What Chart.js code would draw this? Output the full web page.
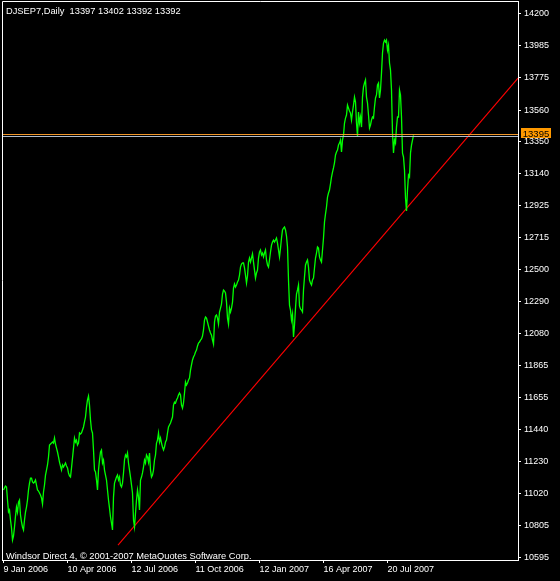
<!DOCTYPE html>
<html><head><meta charset="utf-8">
<script src="https://cdn.jsdelivr.net/npm/chart.js@4.4.1/dist/chart.umd.min.js"></script>
<style>html,body{margin:0;padding:0;background:#000;}canvas{display:block;}</style>
</head><body>
<canvas id="c" width="560" height="581"></canvas>
<script>
const symbolTitle = 'DJSEP7,Daily  13397 13402 13392 13392';
const footerText = 'Windsor Direct 4, \u00A9 2001-2007 MetaQuotes Software Corp.';

// daily closes, one per bar, from 9 Jan 2006
const closes = [
11041,11054,11067,11061,10975,10895,10908,10842,10789,10709,
10736,10796,10868,10928,10895,10961,10975,10875,10829,10796,
10776,10842,10895,10928,10975,11041,11087,11120,11120,11094,
11087,11094,11107,11074,11041,11034,11021,11008,10988,10948,
11028,11074,11140,11173,11207,11260,11339,11346,11352,11359,
11352,11386,11346,11319,11293,11260,11226,11200,11173,11207,
11193,11207,11220,11200,11187,11154,11134,11127,11187,11253,
11319,11386,11359,11372,11339,11352,11419,11412,11419,11439,
11459,11492,11525,11591,11638,11664,11604,11505,11439,11419,
11306,11173,11160,11107,11041,11173,11240,11293,11306,11220,
11240,11173,11140,11107,11041,10975,10921,10862,10822,10776,
10994,11087,11107,11127,11140,11107,11127,11074,11061,11087,
11154,11240,11273,11260,11286,11220,11173,11127,11074,11021,
10842,10796,10888,10975,11041,10994,10908,11107,11127,11154,
11193,11240,11220,11273,11260,11226,11286,11173,11127,11140,
11173,11240,11273,11352,11372,11419,11359,11386,11352,11326,
11306,11326,11359,11372,11419,11459,11472,11485,11505,11525,
11604,11624,11618,11638,11651,11671,11684,11671,11604,11584,
11618,11684,11757,11737,11750,11770,11783,11836,11870,11903,
11923,11936,11956,11969,11996,12015,12022,12035,12042,12062,
12102,12168,12188,12181,12155,12128,12102,12082,12068,12035,
12009,12155,12194,12201,12181,12141,12221,12247,12274,12340,
12367,12360,12347,12287,12181,12141,12247,12221,12247,12287,
12380,12407,12387,12400,12420,12433,12466,12519,12539,12546,
12546,12513,12466,12413,12460,12552,12579,12552,12579,12606,
12552,12499,12446,12480,12499,12579,12619,12632,12599,12612,
12586,12612,12632,12566,12533,12519,12566,12619,12665,12685,
12698,12685,12698,12712,12678,12632,12586,12645,12712,12765,
12778,12785,12765,12725,12652,12433,12267,12234,12168,12208,
12055,12135,12247,12340,12367,12400,12261,12241,12234,12221,
12367,12453,12533,12552,12566,12519,12433,12413,12400,12433,
12446,12513,12579,12612,12652,12645,12586,12566,12552,12632,
12712,12818,12871,12917,12983,13010,13030,13070,13116,13149,
13176,13209,13262,13282,13295,13328,13341,13361,13282,13361,
13394,13474,13507,13527,13593,13573,13554,13540,13494,13547,
13593,13646,13613,13474,13388,13547,13474,13514,13447,13646,
13713,13739,13759,13646,13607,13527,13441,13461,13494,13514,
13507,13580,13640,13660,13726,13739,13640,13693,13806,13938,
14004,14024,14011,14024,13958,13991,13872,13825,13693,13408,
13275,13361,13341,13447,13514,13514,13693,13660,13514,13275,
13249,13162,12977,12891,13030,13129,13116,13275,13328,13361,
13392
];

const dateTickBars = [0, 64, 128, 192, 256, 320, 384];
const dateTickLabels = ['9 Jan 2006','10 Apr 2006','12 Jul 2006','11 Oct 2006','12 Jan 2007','16 Apr 2007','20 Jul 2007'];
const priceTicks = [14200,13985,13775,13560,13350,13140,12925,12715,12500,12290,12080,11865,11655,11440,11230,11020,10805,10595];

const trendBars = [114.5, 514.5];
const trendPrices = [10676, 13772];

const bidPrice = 13395;
const lowerLinePrice = 13388;

const FONT = "'Liberation Sans', Arial, sans-serif";

const mtPlugin = {
  id: 'mt',
  beforeDraw(chart) {
    const ctx = chart.ctx;
    ctx.save();
    ctx.fillStyle = '#000';
    ctx.fillRect(0, 0, chart.width, chart.height);
    ctx.restore();
  },
  afterDatasetsDraw(chart) {
    const ctx = chart.ctx, a = chart.chartArea, ys = chart.scales.y;
    ctx.save();
    const py = Math.round(ys.getPixelForValue(bidPrice));
    const py2 = Math.round(ys.getPixelForValue(lowerLinePrice));
    ctx.lineWidth = 1;
    ctx.strokeStyle = '#b0bccb';
    ctx.beginPath(); ctx.moveTo(a.left, py2 + 0.5); ctx.lineTo(a.right, py2 + 0.5); ctx.stroke();
    ctx.strokeStyle = '#f0962a';
    ctx.beginPath(); ctx.moveTo(a.left, py - 0.5); ctx.lineTo(a.right, py - 0.5); ctx.stroke();
    ctx.restore();
  },
  afterDraw(chart) {
    const ctx = chart.ctx, a = chart.chartArea, ys = chart.scales.y;
    ctx.save();
    ctx.strokeStyle = '#fff';
    ctx.lineWidth = 1;
    ctx.beginPath();
    ctx.moveTo(a.left + 0.5, a.bottom);
    ctx.lineTo(a.left + 0.5, a.top + 0.5);
    ctx.lineTo(a.right + 1, a.top + 0.5);
    ctx.stroke();
    // price label box
    const py = Math.round(ys.getPixelForValue(bidPrice));
    ctx.fillStyle = '#ff9900';
    ctx.fillRect(a.right + 3, py - 7, 30, 10);
    ctx.fillStyle = '#000';
    ctx.font = '9.5px ' + FONT;
    ctx.textAlign = 'center';
    ctx.textBaseline = 'alphabetic';
    ctx.fillText(String(bidPrice), a.right + 18, py + 2);
    // texts
    ctx.fillStyle = '#fff';
    ctx.textAlign = 'left';
    ctx.font = '9.3px ' + FONT;
    ctx.fillText(symbolTitle, 6, 14);
    ctx.fillText(footerText, 6, 559);
    ctx.restore();
  }
};

new Chart(document.getElementById('c'), {
  type: 'line',
  data: {
    datasets: [
      {
        label: 'close',
        data: closes.map((v, i) => ({x: i, y: v})),
        borderColor: '#00ff00',
        borderWidth: 1.3,
        pointRadius: 0,
        tension: 0,
        fill: false
      },
      {
        label: 'trend',
        data: trendBars.map((b, i) => ({x: b, y: trendPrices[i]})),
        borderColor: '#ff0000',
        borderWidth: 1.1,
        pointRadius: 0,
        tension: 0,
        fill: false
      }
    ]
  },
  options: {
    responsive: false,
    animation: false,
    devicePixelRatio: 1,
    layout: { padding: { left: 2, top: 1, right: 0, bottom: 0 } },
    plugins: { legend: { display: false }, tooltip: { enabled: false }, title: { display: false } },
    scales: {
      x: {
        type: 'linear',
        position: 'bottom',
        min: -1.5,
        max: 514.5,
        bounds: 'data',
        afterBuildTicks: s => { s.ticks = dateTickBars.map(v => ({value: v})); },
        afterFit: s => { s.height = 21; s.paddingLeft = 0; s.paddingRight = 0; },
        grid: { display: true, drawOnChartArea: false, drawTicks: true, tickLength: 3, tickColor: '#fff', color: '#fff' },
        border: { display: true, color: '#fff', width: 1 },
        ticks: {
          autoSkip: false, maxRotation: 0, minRotation: 0, align: 'start', padding: 1,
          color: '#fff', font: { family: FONT, size: 9 },
          callback: v => dateTickLabels[dateTickBars.indexOf(v)]
        }
      },
      y: {
        type: 'linear',
        position: 'right',
        min: 10577,
        max: 14283,
        bounds: 'data',
        afterBuildTicks: s => { s.ticks = priceTicks.map(v => ({value: v})); },
        afterFit: s => { s.width = 42; s.paddingTop = 0; s.paddingBottom = 0; },
        grid: { display: true, drawOnChartArea: false, drawTicks: true, tickLength: 3, tickColor: '#fff', color: '#fff' },
        border: { display: true, color: '#fff', width: 1 },
        ticks: {
          autoSkip: false, padding: 3,
          color: '#fff', font: { family: FONT, size: 9 },
          callback: v => String(v)
        }
      }
    }
  },
  plugins: [mtPlugin]
});
</script>
</body></html>
